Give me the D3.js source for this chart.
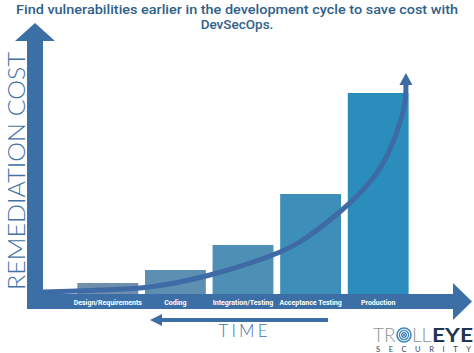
<!DOCTYPE html>
<html>
<head>
<meta charset="utf-8">
<script src="https://cdn.jsdelivr.net/npm/d3@7"></script>
<style>
  html, body { margin: 0; padding: 0; background: #fff; }
  svg { display: block; }
</style>
</head>
<body>
<div id="chart"></div>
<script>
// Stages along the time axis and their relative remediation cost
const stages = ['Design/Requirements', 'Coding', 'Integration/Testing', 'Acceptance Testing', 'Production'];
const costs = [5.5, 12, 24.5, 50, 100.5];
const barColors = ['#6f8fad', '#5c8fb1', '#4e90b5', '#3d8eb8', '#2a8dbc'];

// Cost trend curve (stage position, cost)
const curvePos = [-0.46, 0.38, 1.12, 2.01, 3.05, 3.34, 3.93, 4.23, 4.48, 4.67, 4.82, 4.9, 4.91];
const curveCost = [1, 2, 3.5, 9.5, 21, 26, 41, 50.5, 60.5, 72, 85.5, 97, 104.5];
const curveTipCost = 110.5;

const titleLines = ['Find vulnerabilities earlier in the development cycle to save cost with', 'DevSecOps.'];

const width = 474, height = 353;
const axisColor = '#3d6fa7';
const baseY = 294;

const svg = d3.select('#chart').append('svg')
    .attr('width', width)
    .attr('height', height);

// Scales
const x = d3.scaleBand()
    .domain(stages)
    .range([74, 412])
    .paddingInner(0.1)
    .paddingOuter(0.05);

const xc = d3.scaleLinear() // continuous stage position for the curve
    .domain([0, 5])
    .range([74, 412]);

const y = d3.scaleLinear()
    .domain([0, 110])
    .range([baseY, 74]);

// Title
svg.append('g').selectAll('text')
    .data(titleLines)
    .enter().append('text')
    .attr('x', 237)
    .attr('y', (d, i) => 14 + i * 15)
    .attr('text-anchor', 'middle')
    .attr('textLength', (d, i) => i === 0 ? 442 : null)
    .attr('lengthAdjust', 'spacingAndGlyphs')
    .style('font-family', 'Roboto, sans-serif')
    .style('font-weight', 500)
    .style('font-size', '13.5px')
    .style('fill', '#2f6189')
    .text(d => d);

// Bars
svg.append('g')
    .selectAll('rect')
    .data(stages)
    .enter().append('rect')
    .attr('x', d => x(d))
    .attr('y', (d, i) => y(costs[i]))
    .attr('width', x.bandwidth())
    .attr('height', (d, i) => baseY - y(costs[i]))
    .attr('fill', (d, i) => barColors[i]);

// Vertical axis arrow
svg.append('rect')
    .attr('x', 27).attr('y', 40)
    .attr('width', 16).attr('height', 269)
    .attr('fill', axisColor);
svg.append('path')
    .attr('d', 'M15,41 L35,23 L55,41 Z')
    .attr('fill', axisColor);

// Horizontal axis arrow
svg.append('rect')
    .attr('x', 27).attr('y', baseY)
    .attr('width', 427).attr('height', 15)
    .attr('fill', axisColor);
svg.append('path')
    .attr('d', 'M453,283 L472,301.5 L453,320 Z')
    .attr('fill', axisColor);

// Stage labels on the axis band
svg.append('g').selectAll('text')
    .data(stages)
    .enter().append('text')
    .attr('x', d => x(d) + x.bandwidth() / 2)
    .attr('y', baseY + 10.5)
    .attr('text-anchor', 'middle')
    .style('font-family', 'Roboto, sans-serif')
    .style('font-weight', 'bold')
    .style('font-size', '7px')
    .style('fill', '#ffffff')
    .text(d => d);

// Cost curve
const curveData = curvePos.map((p, i) => [p, curveCost[i]]);
const line = d3.line()
    .x(d => xc(d[0]))
    .y(d => y(d[1]))
    .curve(d3.curveCatmullRom);
svg.append('path')
    .datum(curveData)
    .attr('d', line)
    .attr('fill', 'none')
    .attr('stroke', '#3e6ba6')
    .attr('stroke-width', 5)
    .attr('stroke-linecap', 'butt');

// Curve arrowhead
const last = curveData[curveData.length - 1];
const tipX = xc(last[0]), tipBase = y(last[1]);
svg.append('path')
    .attr('d', `M${tipX - 6.5},${tipBase} L${tipX},${y(curveTipCost)} L${tipX + 6.5},${tipBase} Z`)
    .attr('fill', '#3e6ba6');

// Y axis label
svg.append('text')
    .attr('transform', 'translate(25,290) rotate(-90)')
    .attr('textLength', 238)
    .attr('lengthAdjust', 'spacingAndGlyphs')
    .style('font-family', 'Lato, sans-serif')
    .style('font-weight', 300)
    .style('font-size', '24px')
    .style('fill', '#4372a8')
    .text('REMEDIATION COST');

// Time arrow (pointing left)
svg.append('rect')
    .attr('x', 158).attr('y', 318)
    .attr('width', 170).attr('height', 4)
    .attr('fill', axisColor);
svg.append('path')
    .attr('d', 'M150,320 L162,314 L162,326 Z')
    .attr('fill', axisColor);

svg.append('text')
    .attr('x', 243)
    .attr('y', 337)
    .attr('text-anchor', 'middle')
    .attr('textLength', 49)
    .attr('lengthAdjust', 'spacing')
    .style('font-family', 'Lato, sans-serif')
    .style('font-weight', 300)
    .style('font-size', '17px')
    .style('fill', '#4372a8')
    .text('TIME');

// Logo
const logo = svg.append('g');
logo.append('text')
    .attr('x', 373).attr('y', 342)
    .style('font-family', 'Lato, sans-serif')
    .style('font-size', '19px')
    .style('font-weight', 300)
    .style('fill', '#8d9399')
    .text('TR');
const ring = logo.append('g').attr('transform', 'translate(404,335)');
[7, 4.6, 2.3].forEach((r, i) => {
    ring.append('circle')
        .attr('r', r)
        .attr('fill', 'none')
        .attr('stroke', i === 2 ? '#2c6fa8' : '#3f86bd')
        .attr('stroke-width', i === 0 ? 1.6 : 1.3);
});
ring.append('circle').attr('r', 1).attr('fill', '#2c6fa8');
logo.append('text')
    .attr('x', 412).attr('y', 342)
    .style('font-family', 'Lato, sans-serif')
    .style('font-size', '19px')
    .style('font-weight', 300)
    .style('fill', '#8d9399')
    .text('LL');
logo.append('text')
    .attr('x', 432).attr('y', 342)
    .attr('textLength', 41)
    .attr('lengthAdjust', 'spacingAndGlyphs')
    .style('font-family', 'Lato, sans-serif')
    .style('font-size', '19px')
    .style('font-weight', 'bold')
    .style('fill', '#1f3550')
    .text('EYE');
logo.append('text')
    .attr('x', 376).attr('y', 352)
    .attr('textLength', 95)
    .style('font-family', 'Lato, sans-serif')
    .style('font-size', '7.5px')
    .style('fill', '#3a4450')
    .text('SECURITY');
</script>
</body>
</html>
